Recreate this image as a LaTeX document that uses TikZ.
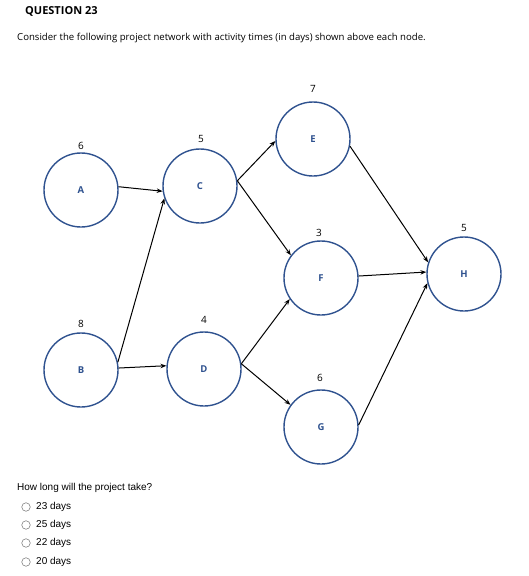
\documentclass[tikz,border=0pt]{standalone}
\usepackage{fontspec}
\setmainfont{Liberation Sans}
\newfontfamily\opensans{Open Sans}
\usetikzlibrary{arrows.meta}
\definecolor{nodeblue}{RGB}{47,82,143}
\definecolor{radiogray}{RGB}{130,130,130}

\begin{document}
\begin{tikzpicture}[x=1pt, y=-1pt,
  ev/.style={circle, draw=nodeblue, line width=1.4pt, minimum size=74pt,
             inner sep=0pt, text=nodeblue,
             font=\opensans\bfseries\fontsize{9.5}{10}\selectfont},
  num/.style={inner sep=0pt, font=\opensans\fontsize{10}{11}\selectfont},
  arr/.style={-{Stealth[length=6pt, width=4.5pt]}, line width=1pt},
  txt/.style={anchor=west, inner sep=0pt, font=\fontsize{10}{12}\selectfont},
  radio/.style={circle, draw=radiogray, line width=0.6pt, minimum size=8.5pt,
                inner sep=0pt}]
\useasboundingbox (0,0) rectangle (529,576);

% heading
\node[anchor=west, inner sep=0pt, font=\opensans\bfseries\fontsize{11}{13}\selectfont]
  (title) at (25,11) {QUESTION 23};
\node[anchor=west, inner sep=0pt, font=\opensans\fontsize{9.6}{11}\selectfont]
  (intro) at (17,38) {Consider the following project network with activity times (in days) shown above each node.};

% activities
\node[ev] (a) at (81,190)  {A};
\node[ev] (b) at (81,370)  {B};
\node[ev] (c) at (200,186) {C};
\node[ev] (d) at (204,369) {D};
\node[ev] (e) at (313,139) {E};
\node[ev] (f) at (321,278) {F};
\node[ev] (g) at (321,427) {G};
\node[ev] (h) at (464,274) {H};

% times
\node[num] (ta) at (81,146)  {6};
\node[num] (tb) at (81,324)  {8};
\node[num] (tc) at (201,139) {5};
\node[num] (td) at (204,320) {4};
\node[num] (te) at (313,89)  {7};
\node[num] (tf) at (319,233) {3};
\node[num] (tg) at (320,378) {6};
\node[num] (th) at (464,228) {5};

% precedences
\draw[arr] (a.5)   -- (c.188);
\draw[arr] (b.12)  -- (c.199);
\draw[arr] (b.3)   -- (d.175);
\draw[arr] (c.8)   -- (e.183);
\draw[arr] (c.8)   -- (f.143);
\draw[arr] (d.8)   -- (f.214);
\draw[arr] (d.8)   -- (g.144);
\draw[arr] (e.349) -- (h.162);
\draw[arr] (f.3)   -- (h.177);
\draw[arr] (g.3)   -- (h.194);

% question
\node[txt] (q) at (17,488) {How long will the project take?};
\node[radio] (r1) at (26,507) {};
\node[radio] (r2) at (26,525) {};
\node[radio] (r3) at (26,543) {};
\node[radio] (r4) at (26,562) {};
\node[txt] (o1) at (36,507) {23 days};
\node[txt] (o2) at (36,525) {25 days};
\node[txt] (o3) at (36,543) {22 days};
\node[txt] (o4) at (36,562) {20 days};
\end{tikzpicture}
\end{document}
